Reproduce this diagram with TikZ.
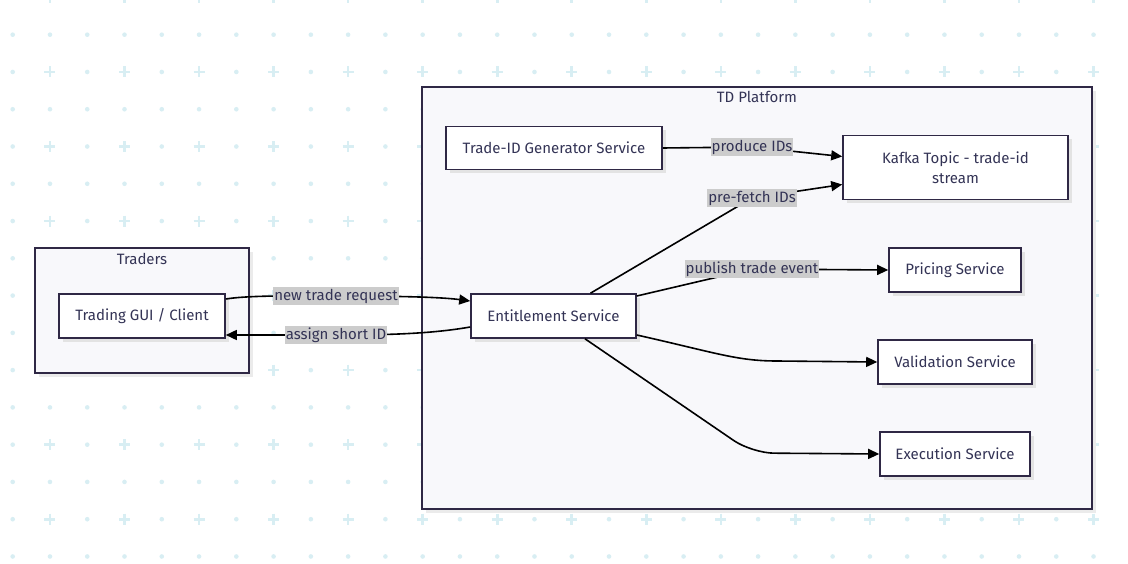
\documentclass[tikz,border=0pt]{standalone}
\usepackage{fontspec}
\setmainfont{Fira Sans}
\usetikzlibrary{arrows.meta,shadows}

\definecolor{inkcol}{HTML}{333355}
\definecolor{framecol}{HTML}{2F2845}
\definecolor{clusterbg}{HTML}{F8F8FB}
\definecolor{labelbg}{HTML}{CCCCCC}
\definecolor{gridcol}{HTML}{D8EEF3}

\begin{document}
\begin{tikzpicture}[
    x=1pt, y=-1pt,
    >={Triangle[length=11pt,width=10pt]},
    every node/.style={font=\fontsize{15}{18}\selectfont, text=inkcol},
    service/.style={
        draw=framecol,
        line width=1.6pt,
        fill=white,
        inner sep=0pt,
        align=center,
        minimum height=44pt,
        drop shadow={shadow xshift=4pt, shadow yshift=-4pt, fill=black!11, opacity=1}
    },
    cluster/.style={
        draw=framecol,
        line width=1.5pt,
        fill=clusterbg,
        inner sep=0pt,
        drop shadow={shadow xshift=4pt, shadow yshift=-4pt, fill=black!8, opacity=1}
    },
    flow/.style={->, line width=1.6pt, draw=black},
    elabel/.style={fill=labelbg, inner xsep=1pt, inner ysep=1.5pt},
    gridcross/.style={draw=gridcol, line width=2.6pt}
]
    \useasboundingbox (0,0) rectangle (1128,564);
    \fill[white] (0,0) rectangle (1128,564);

    % dotted background
    \foreach \i in {0,...,30}{
        \foreach \j in {-1,...,14}{
            \pgfmathsetmacro{\gx}{12.7+37.27*\i}
            \pgfmathsetmacro{\gy}{34.7+37.27*\j}
            \pgfmathtruncatemacro{\iscross}{(mod(\i,2)==1) && (mod(\j+2,2)==1)}
            \ifnum\iscross=1
                \draw[gridcross] (\gx-5.5,\gy) -- (\gx+5.5,\gy) (\gx,\gy-5.5) -- (\gx,\gy+5.5);
            \else
                \fill[gridcol] (\gx,\gy) circle (2.3);
            \fi
        }
    }

    % Groups
    \node[cluster, minimum width=214pt, minimum height=125pt] (traders) at (142,310.5) {};
    \node[anchor=north] (tradersT) at ([yshift=-2pt]traders.north) {Traders};

    \node[cluster, minimum width=670pt, minimum height=422pt] (platform) at (757,298) {};
    \node[anchor=north] (platformT) at ([yshift=-1.5pt]platform.north) {TD Platform};

    % Services
    \node[service, minimum width=166pt] (gui) at (142,316) {Trading GUI / Client};
    \node[service, minimum width=165pt] (ent) at (553.5,316) {Entitlement Service};
    \node[service, minimum width=216pt, minimum height=43pt] (gen) at (554,148) {Trade-ID Generator Service};
    \node[service, minimum width=225pt, minimum height=64pt,
        font=\fontsize{15}{20}\selectfont] (kafka) at (955.5,167.5)
        {Kafka Topic - trade-id\\stream};
    \node[service, minimum width=132pt] (pricing) at (955,270) {Pricing Service};
    \node[service, minimum width=154pt] (valid) at (955,362) {Validation Service};
    \node[service, minimum width=150pt] (exec) at (955,454) {Execution Service};

    % Label points
    \coordinate (cProduce) at (752,147);
    \coordinate (cPrefetch) at (752,198);
    \coordinate (cPublish) at (752,269);
    \coordinate (cNew) at (336,296);
    \coordinate (cAssign) at (336,335);
    \coordinate (cValid) at (777,361);

    % Connectors
    \draw[flow] (gen.east) -- (cProduce) -- ([yshift=11pt]kafka.west);
    \draw[flow] ([xshift=37pt]ent.north) -- (cPrefetch) -- ([yshift=-17pt]kafka.west);
    \draw[flow] ([yshift=20pt]ent.east) -- (cPublish) -- (pricing.west);
    \draw[flow] ([yshift=-19pt]ent.east) .. controls +(80,18) and +(-40,0) .. (cValid) -- (valid.west);
    \draw[flow, rounded corners=22pt] ([xshift=31.5pt]ent.south) -- (752,453) -- (exec.west);
    \draw[flow] ([yshift=17pt]gui.east) .. controls +(25,-4) and +(-35,0) .. (cNew)
        .. controls +(60,0) and +(-30,-4) .. ([yshift=15pt]ent.west);
    \draw[flow] ([yshift=-11pt]ent.west) .. controls +(-40,7) and +(50,0) .. (cAssign)
        -- ([yshift=-19pt]gui.east);

    % Edge labels
    \node[elabel] (lblProduce) at (cProduce) {produce IDs};
    \node[elabel] (lblPrefetch) at (cPrefetch) {pre-fetch IDs};
    \node[elabel] (lblPublish) at (cPublish) {publish trade event};
    \node[elabel] (lblNew) at (cNew) {new trade request};
    \node[elabel] (lblAssign) at (cAssign) {assign short ID};
\end{tikzpicture}
\end{document}
